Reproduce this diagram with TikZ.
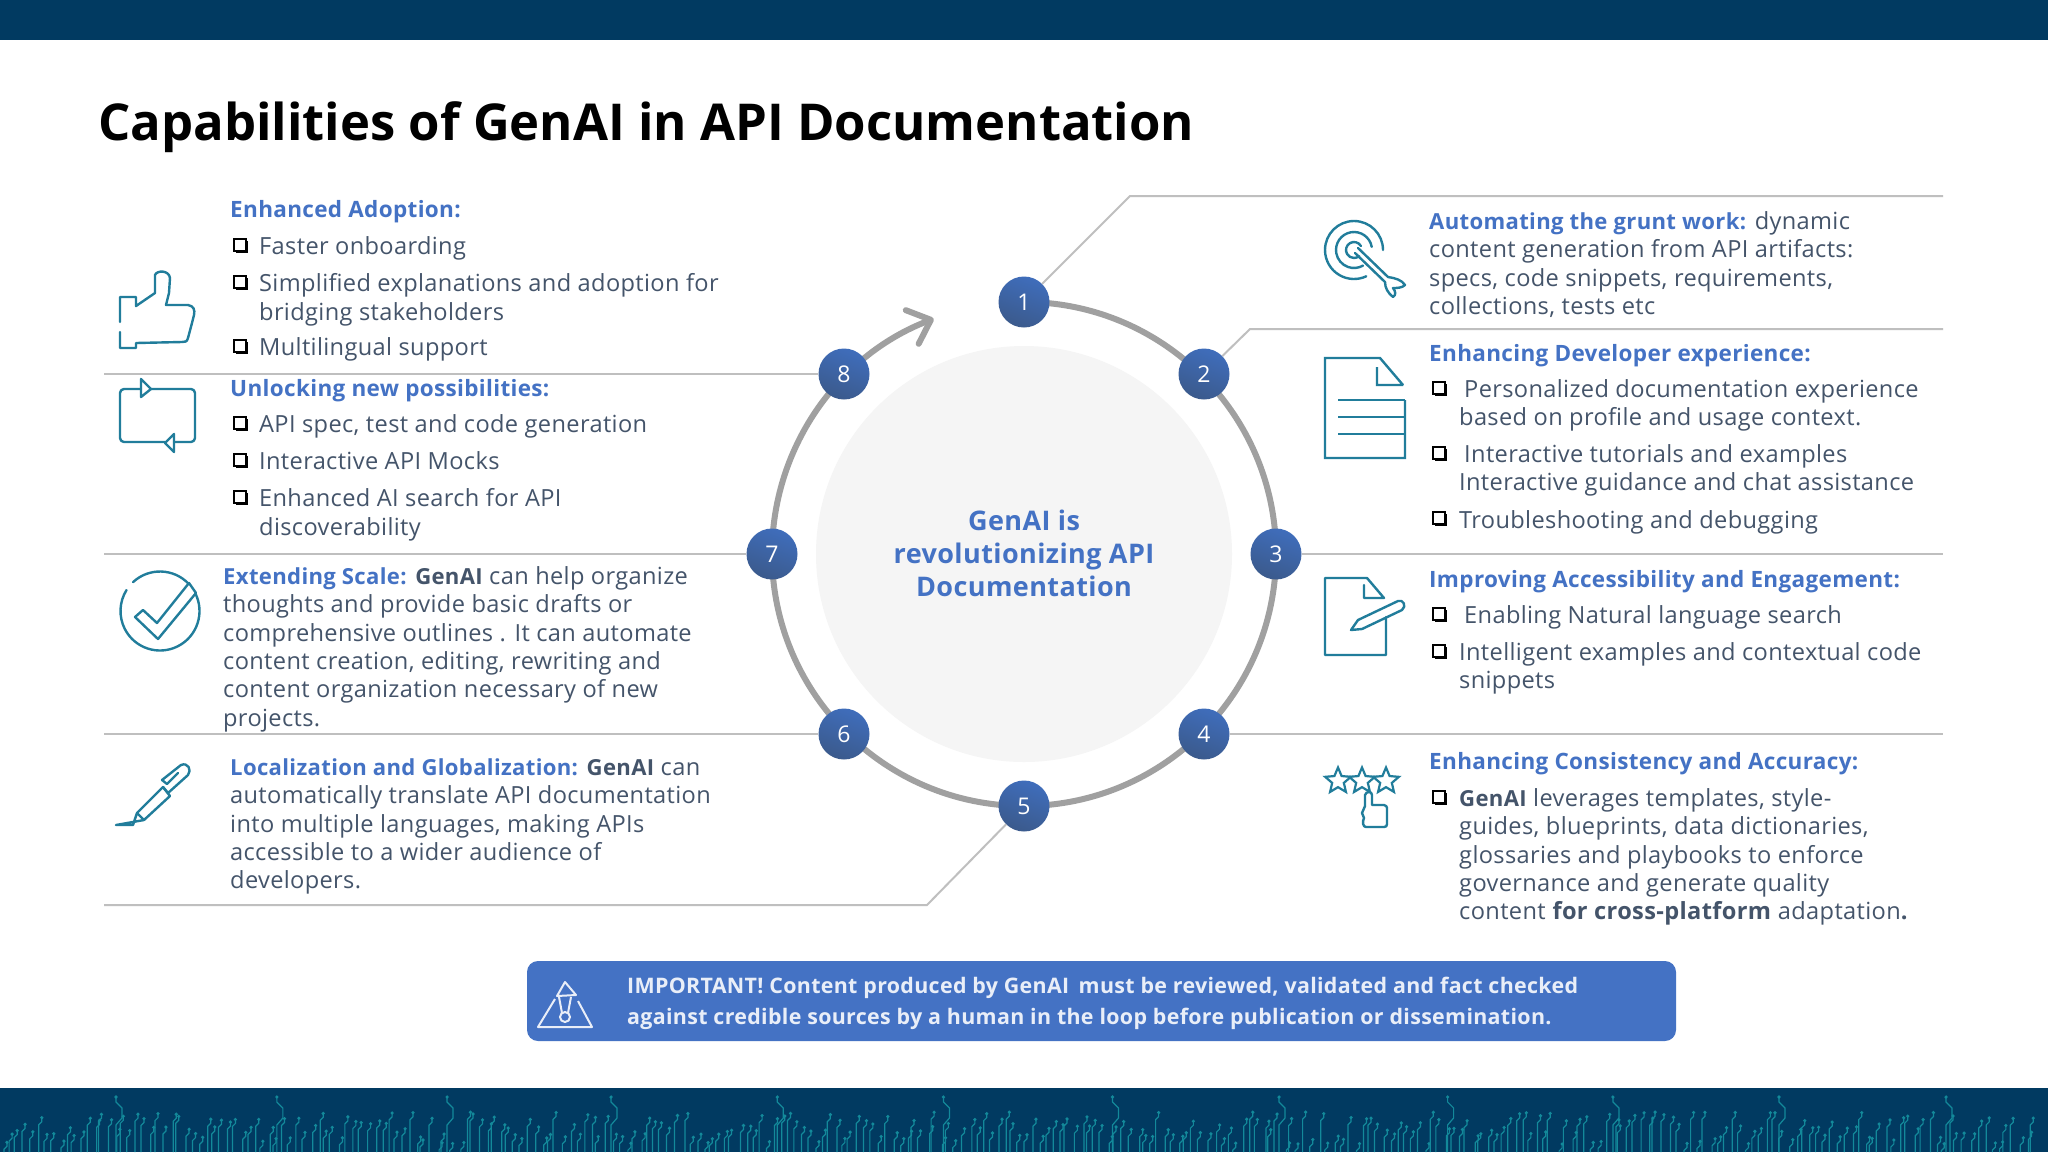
\documentclass[tikz,border=0pt]{standalone}
\usepackage{fontspec}
\usepackage{xcolor}
\usetikzlibrary{arrows.meta, shadows, shapes.geometric}
\setmainfont[LetterSpace=1.5]{Open Sans}
\newfontfamily\titlefont{Open Sans}
\definecolor{navyband}{HTML}{013A61}
\definecolor{tracecol}{HTML}{13899A}
\definecolor{headblue}{HTML}{4472C4}
\definecolor{bodyink}{HTML}{44546A}
\definecolor{iconteal}{HTML}{217D9B}
\definecolor{leadgrey}{HTML}{BFBFBF}
\definecolor{ringgrey}{HTML}{A0A0A0}
\definecolor{dotleft}{HTML}{3F6DBB}
\definecolor{dotright}{HTML}{3B5A8C}
\tikzset{
    bodytext/.style={anchor=north west, inner sep=0pt, yshift=9.5pt, align=left, text=bodyink,
        font=\fontsize{23.6}{28.3}\selectfont, execute at begin node={\rule{0pt}{18pt}}},
    headtext/.style={bodytext, text=headblue, font=\fontsize{22.5}{28.3}\selectfont\bfseries},
    checkbox/.style={draw=black, fill=white, line width=1.6pt, inner sep=0pt, minimum size=12.5pt, xshift=-1pt, yshift=1pt,
        drop shadow={shadow xshift=2pt, shadow yshift=-2pt, fill=black, opacity=1}},
    numdot/.style={circle, minimum size=51pt, inner sep=0pt, text=white, left color=dotleft, right color=dotright,
        shading angle=-20, font=\fontsize{23}{23}\selectfont},
    leadline/.style={draw=leadgrey, line width=2pt},
    iconline/.style={draw=iconteal, line width=2.4pt, line join=round, line cap=round},
    staricon/.style={star, star points=5, star point ratio=2.2, draw=iconteal, line width=2.2pt, inner sep=0pt, minimum size=27pt},
    traceline/.style={draw=tracecol, line width=1.2pt},
}
\newcommand{\gen}{{\fontsize{22.1}{28.3}\selectfont\bfseries GenAI}}
\newcommand{\leadin}[1]{{\fontsize{22.1}{28.3}\selectfont\bfseries\color{headblue}#1}}
\begin{document}
\begin{tikzpicture}[x=1pt, y=-1pt]
        \useasboundingbox (0, 0) rectangle (2048, 1152);
        \fill[white] (0, 0) rectangle (2048, 1152);
        \fill[navyband] (0, 0) rectangle (2048, 40);
        \fill[navyband] (0, 1088) rectangle (2048, 1152);
        % circuit traces
        \pgfmathsetseed{11}
        \foreach \i in {0,...,290}{
            \pgfmathsetmacro{\px}{\i*7+rnd*6}
            \pgfmathsetmacro{\py}{1112+rnd*32}
            \draw[traceline] (\px, 1152) -- (\px, \py+7) -- (\px+3, \py+4) -- (\px+3, \py);
            \fill[tracecol] (\px+3, \py) circle (1.8);
        }
        \foreach \i in {0,...,12}{
            \pgfmathsetmacro{\px}{\i*166+110+rnd*12}
            \draw[traceline] (\px, 1152) -- (\px, 1125) -- (\px+6, 1118) -- (\px+6, 1108) -- (\px, 1102) -- (\px, 1097);
            \fill[tracecol] (\px, 1097) circle (1.8);
        }

        \node[anchor=base west, inner sep=0pt, font=\titlefont\fontsize{50.8}{60}\selectfont\bfseries](title) at (98, 140) {Capabilities of GenAI in API Documentation};

        % centre and ring
        \coordinate(hub) at (1024, 554);
        \fill[black!4] (hub) circle (208);
        \node[inner sep=0pt, align=center, text=headblue, font=\fontsize{27}{33}\selectfont\bfseries](hubtext) at (1024, 553) {GenAI is\\revolutionizing API\\Documentation};
        \draw[draw=ringgrey, line width=6pt, -{Straight Barb[length=20pt, width=36pt, round]}] (1024, 302) arc (-90:249:252);

        \node[numdot](n1) at (1024, 302) {1};
        \node[numdot](n2) at (1204, 374) {2};
        \node[numdot](n3) at (1276, 554) {3};
        \node[numdot](n4) at (1204, 734) {4};
        \node[numdot](n5) at (1024, 806) {5};
        \node[numdot](n6) at (844, 734) {6};
        \node[numdot](n7) at (772, 554) {7};
        \node[numdot](n8) at (844, 374) {8};

        \coordinate(k1) at (1130, 196);
        \coordinate(e1) at (1943, 196);
        \coordinate(k2) at (1250, 329);
        \coordinate(e2) at (1943, 329);
        \coordinate(e3) at (1943, 554);
        \coordinate(e4) at (1943, 734);
        \coordinate(k5) at (927, 905);
        \coordinate(e5) at (104, 905);
        \coordinate(e6) at (104, 734);
        \coordinate(e7) at (104, 554);
        \coordinate(e8) at (104, 374);
        \draw[leadline] (n1) -- (k1) -- (e1);
        \draw[leadline] (n2) -- (k2) -- (e2);
        \draw[leadline] (n3) -- (e3);
        \draw[leadline] (n4) -- (e4);
        \draw[leadline] (n5) -- (k5) -- (e5);
        \draw[leadline] (n6) -- (e6);
        \draw[leadline] (n7) -- (e7);
        \draw[leadline] (n8) -- (e8);

        % left column
        \node[headtext](adopt) at (230, 209) {Enhanced Adoption:};
        \node[checkbox](adoptb1) at (241, 246) {};
        \node[bodytext](adopt1) at (259, 246) {Faster onboarding};
        \node[checkbox](adoptb2) at (241, 283) {};
        \node[bodytext](adopt2) at (259, 283) {Simplified explanations and adoption for\\bridging stakeholders};
        \node[checkbox](adoptb3) at (241, 347) {};
        \node[bodytext](adopt3) at (259, 347) {Multilingual support};

        \node[headtext](unlock) at (230, 388) {Unlocking new possibilities:};
        \node[checkbox](unlockb1) at (241, 424) {};
        \node[bodytext](unlock1) at (259, 424) {API spec, test and code generation};
        \node[checkbox](unlockb2) at (241, 461) {};
        \node[bodytext](unlock2) at (259, 461) {Interactive API Mocks};
        \node[checkbox](unlockb3) at (241, 498) {};
        \node[bodytext](unlock3) at (259, 498) {Enhanced AI search for API\\discoverability};

        \node[bodytext](scale) at (223, 576) {\leadin{Extending Scale:} \gen{} can help organize\\thoughts and provide basic drafts or\\comprehensive outlines . It can automate\\content creation, editing, rewriting and\\content organization necessary of new\\projects.};

        \node[bodytext](local) at (230, 768) {\leadin{Localization and Globalization:} \gen{} can\\automatically translate API documentation\\into multiple languages, making APIs\\accessible to a wider audience of\\developers.};

        % right column
        \node[bodytext](grunt) at (1429, 221) {\leadin{Automating the grunt work:} dynamic\\content generation from API artifacts:\\specs, code snippets, requirements,\\collections, tests etc};

        \node[headtext](devx) at (1429, 353) {Enhancing Developer experience:};
        \node[checkbox](devxb1) at (1440, 389) {};
        \node[bodytext](devx1) at (1459, 389) {\hspace{5pt}Personalized documentation experience\\based on profile and usage context.};
        \node[checkbox](devxb2) at (1440, 454) {};
        \node[bodytext](devx2) at (1459, 454) {\hspace{5pt}Interactive tutorials and examples\\Interactive guidance and chat assistance};
        \node[checkbox](devxb3) at (1440, 519) {};
        \node[bodytext](devx3) at (1459, 520) {Troubleshooting and debugging};

        \node[headtext](access) at (1429, 579) {Improving Accessibility and Engagement:};
        \node[checkbox](accessb1) at (1440, 615) {};
        \node[bodytext](access1) at (1459, 615) {\hspace{5pt}Enabling Natural language search};
        \node[checkbox](accessb2) at (1440, 652) {};
        \node[bodytext](access2) at (1459, 652) {Intelligent examples and contextual code\\snippets};

        \node[headtext](consist) at (1429, 761) {Enhancing Consistency and Accuracy:};
        \node[checkbox](consistb1) at (1440, 798) {};
        \node[bodytext](consist1) at (1459, 798) {\gen{} leverages templates, style-\\guides, blueprints, data dictionaries,\\glossaries and playbooks to enforce\\governance and generate quality\\content \textbf{for cross-platform} adaptation\textbf{.}};

        % banner
        \fill[headblue, rounded corners=11pt] (527, 961) rectangle (1676, 1041);
        \node[anchor=north west, inner sep=0pt, align=left, text=white!88!headblue, font=\fontsize{21.4}{31}\selectfont\bfseries](warntext) at (627, 977) {IMPORTANT! Content produced by GenAI\, must be reviewed, validated and fact checked\\against credible sources by a human in the loop before publication or dissemination.};
        \draw[draw=white!88!headblue, line width=2pt, line join=round] (576, 995) -- (565, 982) -- (557, 996) -- cycle;
        \draw[draw=white!88!headblue, line width=2pt, line join=round] (555, 999) -- (538, 1027) -- (592, 1027) -- (578, 1001);
        \draw[draw=white!88!headblue, line width=2pt] (559, 997) -- (562, 1013) (571, 997) -- (568, 1013);
        \draw[draw=white!88!headblue, line width=2pt] (565, 1017) circle (5);

        % icons
        \draw[iconline] (120, 322) -- (120, 297) -- (136, 297) -- (136, 306) -- (155, 293) -- (155, 275) .. controls (157, 270) and (169, 270) .. (170, 278) -- (169, 293) -- (166, 305) -- (188, 305) .. controls (194, 306) and (195, 310) .. (194, 315) -- (192, 323) -- (188, 338) .. controls (187, 342) and (185, 342) .. (182, 342) -- (136, 343) -- (136, 348) -- (120, 348) -- (120, 332);

        \draw[iconline, rounded corners=4pt] (141, 389) -- (120, 389) -- (120, 442) -- (165, 442);
        \draw[iconline, rounded corners=4pt] (151, 389) -- (195, 389) -- (195, 442) -- (174, 442);
        \draw[iconline] (141, 379) -- (151, 389) -- (141, 397) -- cycle;
        \draw[iconline] (174, 434) -- (165, 443) -- (174, 452) -- cycle;

        \draw[iconline] (160, 611) ++(-133:39.5) arc (-133:-44:39.5);
        \draw[iconline] (160, 611) ++(-27:39.5) arc (-27:212:39.5);
        \draw[iconline] (135, 617) -- (143, 610) -- (157, 623) -- (189, 583) -- (196, 593) -- (158, 639) -- cycle;

        \draw[iconline] (116, 825) -- (133, 825) -- (137, 813) -- (144, 820) -- cycle;
        \draw[iconline] (137, 813) -- (163, 787) -- (170, 796) -- (144, 820);
        \draw[iconline] (163, 787) -- (168, 793) -- (188, 775) .. controls (192, 770) and (188, 762) .. (181, 765) -- (162, 780) -- (167, 784) -- (178, 773);

        \draw[iconline] (1354, 250) ++(0:29) arc (0:-295:29);
        \draw[iconline] (1354, 250) ++(-10:18) arc (-10:-300:18);
        \draw[iconline] (1354, 250) ++(-30:8) arc (-30:-310:8);
        \draw[iconline] (1358, 248) -- (1388, 277) .. controls (1395, 278) and (1402, 280) .. (1405, 285) .. controls (1402, 288) and (1397, 288) .. (1393, 288) .. controls (1396, 292) and (1396, 295) .. (1393, 297) .. controls (1388, 293) and (1385, 288) .. (1385, 282) -- (1355, 253);

        \draw[iconline, miter limit=2, line cap=butt, line join=miter] (1405, 400) -- (1405, 458) -- (1325, 458) -- (1325, 358) -- (1380, 358) -- (1403, 385) -- (1377, 385) -- (1377, 367);
        \draw[iconline, line cap=butt] (1338, 400) -- (1405, 400);
        \draw[iconline, line cap=butt] (1338, 417) -- (1405, 417);
        \draw[iconline, line cap=butt] (1338, 434) -- (1405, 434);

        \draw[iconline] (1386, 617) -- (1386, 655) -- (1325, 655) -- (1325, 578) -- (1367, 578) -- (1384, 598) -- (1364, 598) -- (1364, 585);
        \draw[iconline] (1351, 630) -- (1358, 620) -- (1398, 601) .. controls (1403, 599) and (1407, 606) .. (1402, 610) -- (1362, 629) -- cycle;

        \node[staricon](star1) at (1338, 781) {};
        \node[staricon](star2) at (1362, 781) {};
        \node[staricon](star3) at (1386, 781) {};
        \draw[iconline] (1365, 806) -- (1365, 795) .. controls (1366, 791) and (1372, 791) .. (1372, 795) -- (1372, 805) -- (1384, 805) .. controls (1386, 805) and (1387, 807) .. (1387, 808) -- (1387, 824) .. controls (1387, 826) and (1386, 827) .. (1384, 827) -- (1366, 827) .. controls (1363, 827) and (1362, 822) .. (1364, 818) -- (1362, 813) -- (1365, 806);
\end{tikzpicture}
\end{document}
